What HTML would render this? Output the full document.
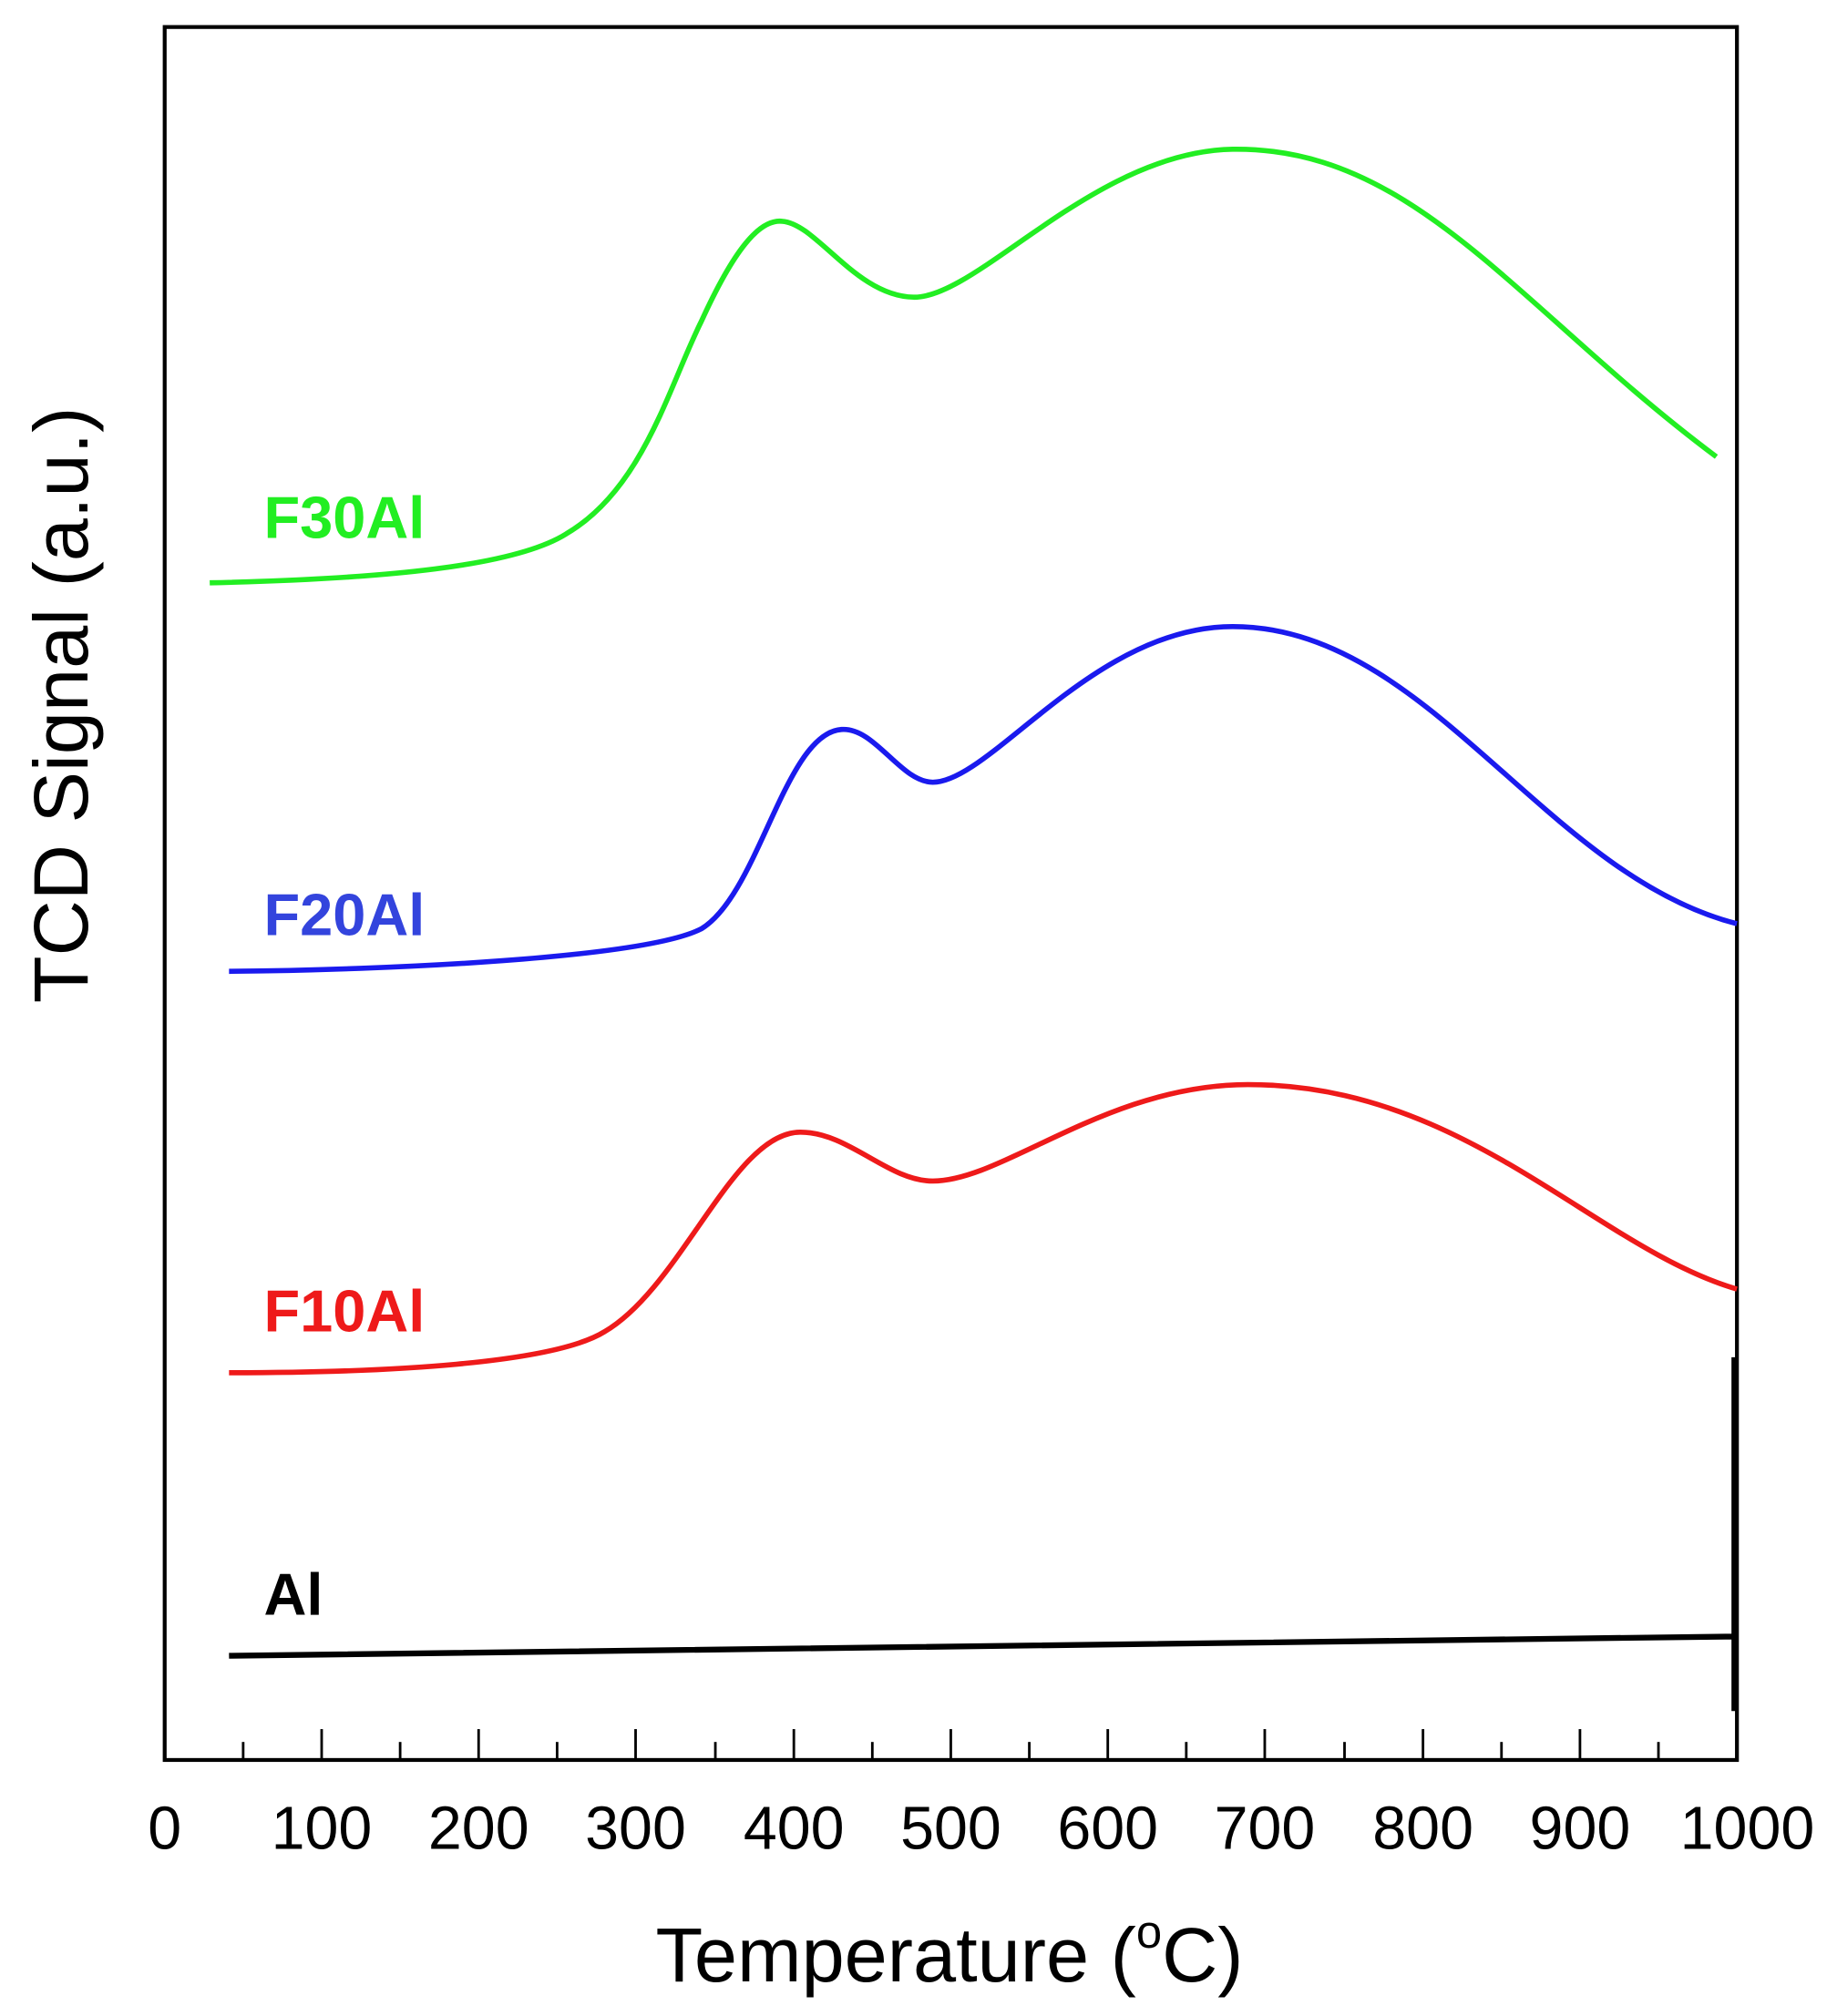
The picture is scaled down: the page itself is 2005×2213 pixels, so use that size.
<!DOCTYPE html>
<html><head><style>html,body{margin:0;padding:0;background:#fff}svg{display:block}</style></head>
<body>
<svg width="2005" height="2213" viewBox="0 0 1420 1567" preserveAspectRatio="none" xmlns="http://www.w3.org/2000/svg" font-family="Liberation Sans, sans-serif">
<rect width="1420" height="1567" fill="#fff"/>
<rect x="128" y="21" width="1222" height="1347" fill="none" stroke="#000" stroke-width="3"/>
<g stroke="#000" stroke-width="2">
<line x1="250" y1="1368" x2="250" y2="1344"/><line x1="372" y1="1368" x2="372" y2="1344"/><line x1="494" y1="1368" x2="494" y2="1344"/><line x1="617" y1="1368" x2="617" y2="1344"/><line x1="739" y1="1368" x2="739" y2="1344"/><line x1="861" y1="1368" x2="861" y2="1344"/><line x1="983" y1="1368" x2="983" y2="1344"/><line x1="1106" y1="1368" x2="1106" y2="1344"/><line x1="1228" y1="1368" x2="1228" y2="1344"/>
<line x1="189" y1="1368" x2="189" y2="1354"/><line x1="311" y1="1368" x2="311" y2="1354"/><line x1="433" y1="1368" x2="433" y2="1354"/><line x1="556" y1="1368" x2="556" y2="1354"/><line x1="678" y1="1368" x2="678" y2="1354"/><line x1="800" y1="1368" x2="800" y2="1354"/><line x1="922" y1="1368" x2="922" y2="1354"/><line x1="1045" y1="1368" x2="1045" y2="1354"/><line x1="1167" y1="1368" x2="1167" y2="1354"/><line x1="1289" y1="1368" x2="1289" y2="1354"/>
</g>
<g font-size="47" text-anchor="middle" fill="#000">
<text x="128" y="1437">0</text><text x="250" y="1437">100</text><text x="372" y="1437">200</text><text x="494" y="1437">300</text><text x="617" y="1437">400</text><text x="739" y="1437">500</text><text x="861" y="1437">600</text><text x="983" y="1437">700</text><text x="1106" y="1437">800</text><text x="1228" y="1437">900</text><text x="1358" y="1437">1000</text>
</g>
<text x="738" y="1540" font-size="60" text-anchor="middle">Temperature (<tspan font-size="36" dy="-26">o</tspan><tspan dy="26">C)</tspan></text>
<text transform="translate(68,548) rotate(-90)" font-size="60" text-anchor="middle">TCD Signal (a.u.)</text>
<g fill="none" stroke-width="4">
<path stroke="#22ee22" d="M163,453 C300,450 400,440 440,415 C500,380 520,300 545,250 C570,195 590,170 608,172 C635,174 665,230 710,231 C760,232 850,118 958,116 C1100,114 1180,240 1334,355"/>
<path stroke="#1a1aee" d="M178,755 C300,754 500,745 545,722 C590,695 610,570 654,567 C680,565 700,608 725,608 C770,608 850,487 958,487 C1110,487 1200,680 1350,718"/>
<path stroke="#ee1a1a" d="M178,1067 C300,1067 430,1060 470,1035 C530,1000 570,880 622,880 C660,880 690,918 725,918 C780,918 860,843 970,843 C1140,843 1240,970 1350,1002"/>
<path stroke="#000" stroke-width="4.5" d="M178,1287 L1348,1272 M1348,1055 L1348,1330"/>
</g>
<g font-size="46" font-weight="bold">
<text x="205" y="418" fill="#22ee22">F30Al</text>
<text x="205" y="727" fill="#3344dd">F20Al</text>
<text x="205" y="1035" fill="#ee1a1a">F10Al</text>
<text x="205" y="1255" fill="#000">Al</text>
</g>
</svg>
</body></html>
